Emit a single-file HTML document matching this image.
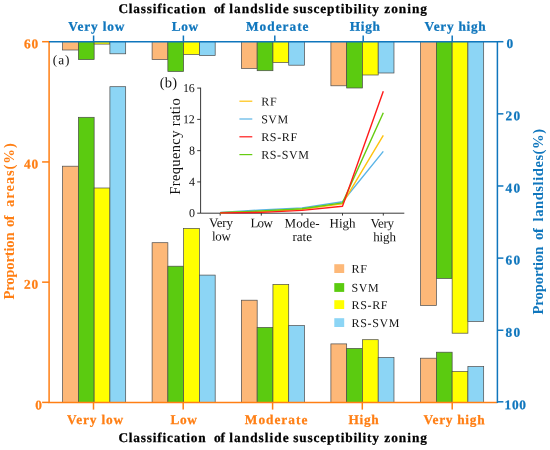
<!DOCTYPE html>
<html lang="en"><head><meta charset="utf-8"><title>Landslide susceptibility zoning chart</title>
<style>html,body{margin:0;padding:0;background:#fff}body{width:550px;height:450px;overflow:hidden}svg{display:block}</style></head>
<body>
<svg width="550" height="450" viewBox="0 0 550 450">
<rect width="550" height="450" fill="#fff"/>
<g stroke="#4a4a4a" stroke-width="0.7">
<rect x="62.60" y="166.20" width="15.77" height="236.20" fill="#FDB878"/>
<rect x="62.60" y="41.70" width="15.77" height="8.30" fill="#FDB878"/>
<rect x="78.37" y="117.30" width="15.77" height="285.10" fill="#5BCB10"/>
<rect x="78.37" y="41.70" width="15.77" height="17.90" fill="#5BCB10"/>
<rect x="94.14" y="188.00" width="15.77" height="214.40" fill="#FFFF00"/>
<rect x="94.14" y="41.70" width="15.77" height="2.40" fill="#FFFF00"/>
<rect x="109.91" y="86.70" width="15.77" height="315.70" fill="#8CD5F5"/>
<rect x="109.91" y="41.70" width="15.77" height="12.10" fill="#8CD5F5"/>
<rect x="152.10" y="242.70" width="15.77" height="159.70" fill="#FDB878"/>
<rect x="152.10" y="41.70" width="15.77" height="17.80" fill="#FDB878"/>
<rect x="167.87" y="266.20" width="15.77" height="136.20" fill="#5BCB10"/>
<rect x="167.87" y="41.70" width="15.77" height="29.80" fill="#5BCB10"/>
<rect x="183.64" y="228.40" width="15.77" height="174.00" fill="#FFFF00"/>
<rect x="183.64" y="41.70" width="15.77" height="12.70" fill="#FFFF00"/>
<rect x="199.41" y="275.10" width="15.77" height="127.30" fill="#8CD5F5"/>
<rect x="199.41" y="41.70" width="15.77" height="13.80" fill="#8CD5F5"/>
<rect x="241.40" y="300.20" width="15.77" height="102.20" fill="#FDB878"/>
<rect x="241.40" y="41.70" width="15.77" height="26.70" fill="#FDB878"/>
<rect x="257.17" y="327.40" width="15.77" height="75.00" fill="#5BCB10"/>
<rect x="257.17" y="41.70" width="15.77" height="29.00" fill="#5BCB10"/>
<rect x="272.94" y="284.40" width="15.77" height="118.00" fill="#FFFF00"/>
<rect x="272.94" y="41.70" width="15.77" height="20.80" fill="#FFFF00"/>
<rect x="288.71" y="325.60" width="15.77" height="76.80" fill="#8CD5F5"/>
<rect x="288.71" y="41.70" width="15.77" height="23.50" fill="#8CD5F5"/>
<rect x="330.90" y="343.90" width="15.77" height="58.50" fill="#FDB878"/>
<rect x="330.90" y="41.70" width="15.77" height="44.10" fill="#FDB878"/>
<rect x="346.67" y="348.40" width="15.77" height="54.00" fill="#5BCB10"/>
<rect x="346.67" y="41.70" width="15.77" height="46.30" fill="#5BCB10"/>
<rect x="362.44" y="339.70" width="15.77" height="62.70" fill="#FFFF00"/>
<rect x="362.44" y="41.70" width="15.77" height="33.30" fill="#FFFF00"/>
<rect x="378.21" y="357.50" width="15.77" height="44.90" fill="#8CD5F5"/>
<rect x="378.21" y="41.70" width="15.77" height="31.30" fill="#8CD5F5"/>
<rect x="420.60" y="358.20" width="15.77" height="44.20" fill="#FDB878"/>
<rect x="420.60" y="41.70" width="15.77" height="263.70" fill="#FDB878"/>
<rect x="436.37" y="352.20" width="15.77" height="50.20" fill="#5BCB10"/>
<rect x="436.37" y="41.70" width="15.77" height="236.80" fill="#5BCB10"/>
<rect x="452.14" y="371.50" width="15.77" height="30.90" fill="#FFFF00"/>
<rect x="452.14" y="41.70" width="15.77" height="291.50" fill="#FFFF00"/>
<rect x="467.91" y="366.60" width="15.77" height="35.80" fill="#8CD5F5"/>
<rect x="467.91" y="41.70" width="15.77" height="279.70" fill="#8CD5F5"/>
</g>
<g stroke="#FF7F14" stroke-width="1.5" fill="none">
<path d="M49.1 41.0V402.4H497.4"/>
<path d="M42.1 402.40H49.1"/>
<path d="M42.1 282.17H49.1"/>
<path d="M42.1 161.93H49.1"/>
<path d="M42.1 41.70H49.1"/>
<path d="M93.5 402.4V409.59999999999997"/>
<path d="M183.2 402.4V409.59999999999997"/>
<path d="M272.6 402.4V409.59999999999997"/>
<path d="M362.3 402.4V409.59999999999997"/>
<path d="M452.2 402.4V409.59999999999997"/>
</g>
<g stroke="#0F76BD" stroke-width="1.5" fill="none">
<path d="M49.1 41.7H497.4V403.09999999999997"/>
<path d="M497.4 41.70H503.4"/>
<path d="M497.4 113.84H503.4"/>
<path d="M497.4 185.98H503.4"/>
<path d="M497.4 258.12H503.4"/>
<path d="M497.4 330.26H503.4"/>
<path d="M497.4 401.80H503.4"/>
<path d="M93.6 41.7V35.5"/>
<path d="M183.4 41.7V35.5"/>
<path d="M274.8 41.7V35.5"/>
<path d="M363.2 41.7V35.5"/>
<path d="M452.2 41.7V35.5"/>
</g>
<g font-family="'Liberation Serif', 'Times New Roman', serif" font-size="13.33">
<g font-weight="bold" fill="#FF7F14" stroke="#FF7F14" stroke-width="0.25">
<text transform="translate(35.2 409.4) rotate(0.03)" letter-spacing="0.00">0</text>
<text transform="translate(24.0 288.8) rotate(0.03)" letter-spacing="0.87">20</text>
<text transform="translate(24.0 168.5) rotate(0.03)" letter-spacing="0.87">40</text>
<text transform="translate(24.0 48.3) rotate(0.03)" letter-spacing="0.87">60</text>
<text transform="translate(67.1 424.1) rotate(0.03)" letter-spacing="0.82">Very low</text>
<text transform="translate(170.5 424.1) rotate(0.03)" letter-spacing="0.66">Low</text>
<text transform="translate(244.8 424.1) rotate(0.03)" letter-spacing="1.00">Moderate</text>
<text transform="translate(348.5 424.1) rotate(0.03)" letter-spacing="0.71">High</text>
<text transform="translate(423.4 424.1) rotate(0.03)" letter-spacing="0.72">Very high</text>
<text transform="translate(13.6 299.6) rotate(-90)" letter-spacing="-0.19" xml:space="preserve" font-size="14.67" stroke="none">Proportion</text>
<text transform="translate(13.6 226.9) rotate(-90)" letter-spacing="-0.72" xml:space="preserve" font-size="14.67" stroke="none">of</text>
<text transform="translate(13.6 206.9) rotate(-90)" letter-spacing="0.88" xml:space="preserve" font-size="14.67" stroke="none">areas(%)</text>
</g>
<g font-weight="bold" fill="#0F76BD" stroke="#0F76BD" stroke-width="0.25">
<text transform="translate(506.4 48.1) rotate(0.03)" letter-spacing="0.00">0</text>
<text transform="translate(505.6 120.3) rotate(0.03)" letter-spacing="1.27">20</text>
<text transform="translate(505.6 192.5) rotate(0.03)" letter-spacing="1.27">40</text>
<text transform="translate(505.6 264.6) rotate(0.03)" letter-spacing="1.27">60</text>
<text transform="translate(505.6 336.8) rotate(0.03)" letter-spacing="1.27">80</text>
<text transform="translate(504.6 409.3) rotate(0.03)" letter-spacing="0.65">100</text>
<text transform="translate(68.3 30.7) rotate(0.03)" letter-spacing="0.82">Very low</text>
<text transform="translate(171.7 30.7) rotate(0.03)" letter-spacing="0.66">Low</text>
<text transform="translate(246.0 30.7) rotate(0.03)" letter-spacing="1.00">Moderate</text>
<text transform="translate(349.7 30.7) rotate(0.03)" letter-spacing="0.71">High</text>
<text transform="translate(424.6 30.7) rotate(0.03)" letter-spacing="0.72">Very high</text>
<text transform="translate(542.7 314.5) rotate(-90)" letter-spacing="-0.12" xml:space="preserve" font-size="14.67" stroke="none">Proportion</text>
<text transform="translate(542.7 240.1) rotate(-90)" letter-spacing="-0.12" xml:space="preserve" font-size="14.67" stroke="none">of</text>
<text transform="translate(542.7 221.4) rotate(-90)" letter-spacing="0.51" xml:space="preserve" font-size="14.67" stroke="none">landslides(%)</text>
</g>
<g font-weight="bold" fill="#000" stroke="#000" stroke-width="0.25">
<text transform="translate(118.4 13.1) rotate(0.03)" letter-spacing="0.79">Classification</text>
<text transform="translate(214.0 13.1) rotate(0.03)" letter-spacing="-0.11">of</text>
<text transform="translate(229.3 13.1) rotate(0.03)" letter-spacing="1.02">landslide</text>
<text transform="translate(293.3 13.1) rotate(0.03)" letter-spacing="0.84">susceptibility</text>
<text transform="translate(384.3 13.1) rotate(0.03)" letter-spacing="0.98">zoning</text>
<text transform="translate(118.4 442.0) rotate(0.03)" letter-spacing="0.79">Classification</text>
<text transform="translate(214.0 442.0) rotate(0.03)" letter-spacing="-0.11">of</text>
<text transform="translate(229.3 442.0) rotate(0.03)" letter-spacing="1.02">landslide</text>
<text transform="translate(293.3 442.0) rotate(0.03)" letter-spacing="0.84">susceptibility</text>
<text transform="translate(384.3 442.0) rotate(0.03)" letter-spacing="0.98">zoning</text>
</g>
<g fill="#111">
<text transform="translate(52.8 64.3) rotate(0.03)" letter-spacing="0.95">(a)</text>
<text transform="translate(159.8 87.3) rotate(0.03)" letter-spacing="0.24" font-size="14.5">(b)</text>
<rect x="334.3" y="264.2" width="9.9" height="8.8" fill="#FDB878"/>
<rect x="334.3" y="283.1" width="9.9" height="8.8" fill="#5BCB10"/>
<rect x="334.3" y="300.2" width="9.9" height="8.8" fill="#FFFF00"/>
<rect x="334.3" y="318.2" width="9.9" height="8.8" fill="#8CD5F5"/>
<g font-size="12">
<text transform="translate(351.6 272.8) rotate(0.03)" letter-spacing="0.71">RF</text>
<text transform="translate(351.6 291.8) rotate(0.03)" letter-spacing="0.49">SVM</text>
<text transform="translate(351.6 309.0) rotate(0.03)" letter-spacing="0.64">RS-RF</text>
<text transform="translate(351.6 327.1) rotate(0.03)" letter-spacing="0.62">RS-SVM</text>
<text transform="translate(261.2 105.4) rotate(0.03)" letter-spacing="0.71">RF</text>
<text transform="translate(261.2 123.2) rotate(0.03)" letter-spacing="0.49">SVM</text>
<text transform="translate(261.2 141.0) rotate(0.03)" letter-spacing="0.64">RS-RF</text>
<text transform="translate(261.2 158.8) rotate(0.03)" letter-spacing="0.62">RS-SVM</text>
<text transform="translate(188.9 217.1) rotate(0.03)" letter-spacing="0.00">0</text>
<text transform="translate(188.9 185.8) rotate(0.03)" letter-spacing="0.00">4</text>
<text transform="translate(188.9 154.5) rotate(0.03)" letter-spacing="0.00">8</text>
<text transform="translate(183.0 123.3) rotate(0.03)" letter-spacing="-0.20">12</text>
<text transform="translate(183.0 92.0) rotate(0.03)" letter-spacing="-0.20">16</text>
<text transform="translate(209.0 227.0) rotate(0.03)" letter-spacing="-0.18" font-size="13">Very</text>
<text transform="translate(212.0 240.6) rotate(0.03)" letter-spacing="-0.25" font-size="13">low</text>
<text transform="translate(250.4 227.2) rotate(0.03)" letter-spacing="-0.72" font-size="13">Low</text>
<text transform="translate(284.5 227.4) rotate(0.03)" letter-spacing="0.11" font-size="13">Mode-</text>
<text transform="translate(292.5 241.0) rotate(0.03)" letter-spacing="0.01" font-size="13">rate</text>
<text transform="translate(329.5 227.6) rotate(0.03)" letter-spacing="0.00" font-size="13">High</text>
<text transform="translate(370.4 227.6) rotate(0.03)" letter-spacing="-0.32" font-size="13">Very</text>
<text transform="translate(373.2 241.2) rotate(0.03)" letter-spacing="-0.14" font-size="13">high</text>
</g>
<text transform="translate(179.7 194.7) rotate(-90)" letter-spacing="0.36" xml:space="preserve" font-size="14.5">Frequency ratio</text>
</g>
</g>
<g stroke="#222" stroke-width="0.9" fill="none">
<path d="M200.6 87.69999999999999V213.2H404.3"/>
<path d="M197.2 213.20H200.6"/>
<path d="M197.2 181.92H200.6"/>
<path d="M197.2 150.65H200.6"/>
<path d="M197.2 119.38H200.6"/>
<path d="M197.2 88.10H200.6"/>
<path d="M220.2 213.2V215.6"/>
<path d="M261.3 213.2V215.6"/>
<path d="M302 213.2V215.6"/>
<path d="M342.5 213.2V215.6"/>
<path d="M383.3 213.2V215.6"/>
</g>
<path d="M239.4 101.2H252.3" stroke="#FFC20E" stroke-width="1.2"/>
<path d="M239.4 119.0H252.3" stroke="#5AB4E6" stroke-width="1.2"/>
<path d="M239.4 136.8H252.3" stroke="#FF1A1A" stroke-width="1.2"/>
<path d="M239.4 154.6H252.3" stroke="#66CC11" stroke-width="1.2"/>
<polyline points="220.2,212.4 261.3,210.0 302.0,207.9 342.5,201.8 383.3,151.4" fill="none" stroke="#5AB4E6" stroke-width="1.4" stroke-linejoin="round"/>
<polyline points="220.2,212.7 261.3,211.5 302.0,209.3 342.5,203.7 383.3,135.4" fill="none" stroke="#FFC20E" stroke-width="1.4" stroke-linejoin="round"/>
<polyline points="220.2,212.6 261.3,210.9 302.0,208.7 342.5,202.9 383.3,112.7" fill="none" stroke="#66CC11" stroke-width="1.4" stroke-linejoin="round"/>
<polyline points="220.2,212.9 261.3,212.4 302.0,210.4 342.5,206.2 383.3,91.2" fill="none" stroke="#FF1A1A" stroke-width="1.4" stroke-linejoin="round"/>
</svg>
</body></html>
